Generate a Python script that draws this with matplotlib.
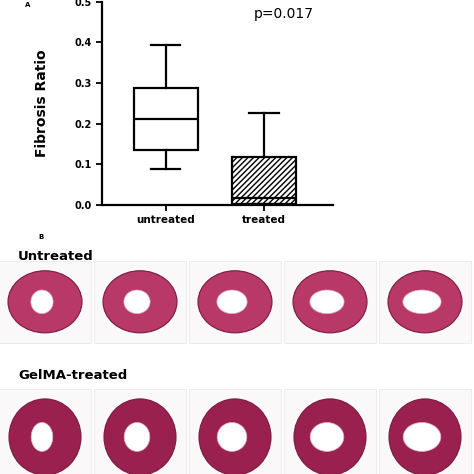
import matplotlib
matplotlib.use("Agg")
import matplotlib.pyplot as plt
from matplotlib.patches import Ellipse, Rectangle

groups = ["untreated", "treated"]
whislo = [0.088, 0.003]
q1 = [0.135, 0.003]
med = [0.212, 0.018]
q3 = [0.287, 0.118]
whishi = [0.393, 0.226]
yticks = [0.0, 0.1, 0.2, 0.3, 0.4, 0.5]
p_text = "p=0.017"
row_labels = ["Untreated", "GelMA-treated"]

fig = plt.figure(figsize=(4.74, 4.74), dpi=100)
ax = fig.add_axes([0.215, 0.5675, 0.487, 0.429])
stats = [dict(whislo=whislo[i], q1=q1[i], med=med[i], q3=q3[i], whishi=whishi[i], label=groups[i]) for i in range(2)]
bp = ax.bxp(stats, positions=[1, 2], widths=0.65, patch_artist=True, showfliers=False,
            boxprops=dict(lw=1.6, edgecolor="black"), medianprops=dict(color="black", lw=1.6),
            whiskerprops=dict(lw=1.6), capprops=dict(lw=1.6), capwidths=0.3)
bp["boxes"][0].set_facecolor("white")
bp["boxes"][1].set_facecolor("white")
bp["boxes"][1].set_hatch("//////")
ax.set_xlim(0.35, 2.7)
ax.set_ylim(0, 0.5)
ax.set_yticks(yticks)
ax.set_yticklabels([f"{t:.1f}" for t in yticks], fontsize=7, fontweight="bold")
ax.tick_params(axis="x", labelsize=7.5, length=4, width=1.3)
for l in ax.get_xticklabels():
    l.set_fontweight("bold")
ax.tick_params(axis="y", length=4, width=1.3)
for s in ["top", "right"]:
    ax.spines[s].set_visible(False)
for s in ["left", "bottom"]:
    ax.spines[s].set_linewidth(1.6)
ax.set_ylabel("Fibrosis Ratio", fontsize=10, fontweight="bold", labelpad=18)
ax.text(1.9, 0.46, p_text, fontsize=10)
fig.text(0.25 / 4.74, 0.995, "A", fontsize=5, fontweight="bold", va="top")
fig.text(0.08, 0.495, "B", fontsize=5, fontweight="bold")

lax = fig.add_axes([0, 0, 1, 0.49])
lax.set_xlim(0, 474)
lax.set_ylim(474, 242)
lax.axis("off")
lax.text(18, 257, row_labels[0], fontsize=9.5, fontweight="bold", va="center")
lax.text(18, 376, row_labels[1], fontsize=9.5, fontweight="bold", va="center")
cx = [45, 140, 235, 330, 425]
for i, x in enumerate(cx):
    for y, w, h, col in [(302, 74, 62, "#b83868"), (437, 72, 76, "#9a2050")]:
        lax.add_patch(Rectangle((x - 46, y - h / 2 - 10), 92, h + 20, fc="#fbf8f9", ec="#e6e6e6", lw=0.5))
        lax.add_patch(Ellipse((x, y), w, h, fc=col, ec="#7a1a40", lw=0.8))
        lax.add_patch(Ellipse((x - 3, y), w * 0.3 + i * 4, h * 0.38, fc="white", ec="#e0b0c0", lw=0.5))
fig.savefig("out.png", dpi=100)
